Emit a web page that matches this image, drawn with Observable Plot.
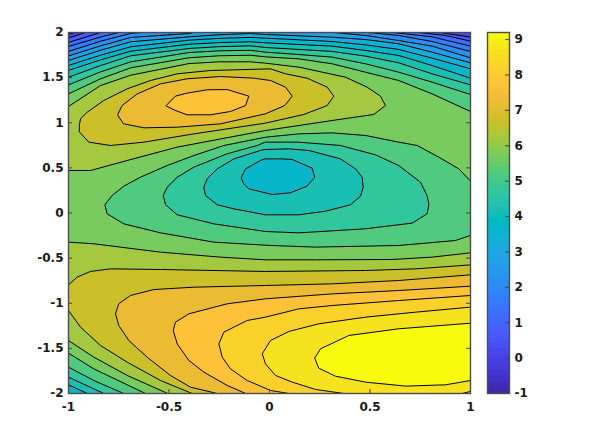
<!DOCTYPE html>
<html>
<head>
<meta charset="utf-8">
<script src="https://cdn.jsdelivr.net/npm/d3@7"></script>
<script src="https://cdn.jsdelivr.net/npm/@observablehq/plot@0.6"></script>
<style>
html,body{margin:0;padding:0;background:#fff}
#chart{position:relative;width:593px;height:443px;overflow:hidden}
#chart svg{position:absolute;left:0;top:0;background:transparent}
</style>
</head>
<body>
<div id="chart"></div>
<script>
const xTicks = [-1, -0.5, 0, 0.5, 1];
const yTicks = [-2, -1.5, -1, -0.5, 0, 0.5, 1, 1.5, 2];
const barTicks = [-1, 0, 1, 2, 3, 4, 5, 6, 7, 8, 9];
const colorDomain = [-1, 9.2];
const parula = ["rgb(62,38,168)","rgb(68,50,203)","rgb(71,65,229)","rgb(72,82,244)","rgb(69,99,253)","rgb(56,117,254)","rgb(46,135,247)","rgb(39,150,235)","rgb(32,165,227)","rgb(18,177,214)","rgb(2,186,195)","rgb(36,193,174)","rgb(55,200,151)","rgb(87,203,120)","rgb(129,204,89)","rgb(172,199,57)","rgb(209,191,39)","rgb(240,186,54)","rgb(254,195,56)","rgb(250,210,42)","rgb(245,228,31)","rgb(249,251,14)"];

// Contours: [x, y] vertices, each closed into a filled region.
const background = [[-1,2],[1,2],[1,-2],[-1,-2]];
const top52 = [[-1,2],[-1,1.32],[-.84,1.487],[-.69,1.609],[-.4,1.72],[-.25,1.742],[-.095,1.748],[-.02,1.73],[.146,1.708],[.312,1.653],[.478,1.56],[.643,1.468],[.809,1.32],[1,1.125],[1,2]];
const top47 = [[-1,2],[-1,1.42],[-.84,1.564],[-.69,1.675],[-.4,1.778],[-.25,1.797],[-.095,1.803],[-.02,1.782],[.146,1.756],[.312,1.727],[.478,1.653],[.643,1.56],[.809,1.45],[1,1.313],[1,2]];
const top42 = [[-1,2],[-1,1.505],[-.84,1.634],[-.69,1.742],[-.4,1.823],[-.25,1.843],[-.095,1.852],[-.02,1.834],[.146,1.812],[.312,1.79],[.478,1.738],[.643,1.664],[.809,1.542],[1,1.42],[1,2]];
const top37 = [[-1,2],[-1,1.58],[-.84,1.697],[-.69,1.793],[-.4,1.87],[-.25,1.888],[-.095,1.897],[-.02,1.886],[.146,1.867],[.312,1.849],[.478,1.801],[.643,1.745],[.809,1.634],[1,1.494],[1,2]];
const top32 = [[-1,2],[-1,1.635],[-.84,1.749],[-.69,1.842],[-.4,1.915],[-.25,1.935],[-.095,1.945],[-.02,1.937],[.146,1.919],[.312,1.9],[.478,1.863],[.643,1.812],[.809,1.716],[1,1.598],[1,2]];
const top27 = [[-1,2],[-1,1.69],[-.84,1.804],[-.69,1.897],[-.4,1.952],[-.25,1.975],[-.095,1.989],[-.02,1.978],[.146,1.963],[.312,1.948],[.478,1.922],[.643,1.875],[.809,1.782],[1,1.664],[1,2]];
const top22 = [[-1,2],[-1,1.74],[-.84,1.852],[-.69,1.945],[-.4,1.989],[-.38,2],[.32,2],[.478,1.967],[.643,1.911],[.809,1.849],[1,1.719],[1,2]];
const top17 = [[-1,2],[-1,1.79],[-.84,1.904],[-.69,1.99],[-.64,2],[.493,2],[.643,1.967],[.809,1.9],[1,1.79],[1,2]];
const top12 = [[-1,2],[-1,1.845],[-.84,1.95],[-.75,2],[.617,2],[.809,1.952],[1,1.849],[1,2]];
const top07 = [[-1,2],[-1,1.89],[-.84,2],[.741,2],[.876,1.967],[1,1.904],[1,2]];
const top02 = [[-1,2],[-1,1.94],[-.915,2],[.85,2],[1,1.948],[1,2]];
const topM03 = [[-1,2],[-1,1.98],[-.965,2]];

const lobe62 = [[-1,1.18],[-.84,1.413],[-.69,1.527],[-.4,1.656],[-.25,1.675],[-.095,1.675],[-.02,1.66],[.146,1.616],[.378,1.505],[.486,1.394],[.552,1.295],[.577,1.191],[.519,1.092],[.312,1.025],[-.02,.914],[-.25,.818],[-.459,.73],[-.708,.582],[-.89,.471],[-1,.471]];
const lobe67 = [[-.945,.988],[-.94,1.044],[-.907,1.117],[-.824,1.247],[-.708,1.376],[-.592,1.468],[-.459,1.542],[-.294,1.579],[.005,1.597],[.08,1.542],[.187,1.494],[.287,1.394],[.32,1.295],[.287,1.191],[.171,1.092],[-.02,.996],[-.376,.877],[-.625,.785],[-.791,.748],[-.899,.785],[-.945,.896]];
const lobe72 = [[-.755,1.091],[-.733,1.191],[-.658,1.32],[-.542,1.431],[-.41,1.487],[-.244,1.512],[-.078,1.494],[.005,1.468],[.08,1.394],[.113,1.295],[.076,1.191],[-.02,1.099],[-.244,.988],[-.459,.951],[-.625,.944],[-.725,.988]];
const lobe77 = [[-.514,1.191],[-.468,1.295],[-.41,1.328],[-.31,1.365],[-.211,1.368],[-.103,1.295],[-.119,1.191],[-.194,1.125],[-.294,1.088],[-.41,1.088],[-.468,1.136]];

const ring52 = [[1,.353],[.942,.49],[.842,.619],[.735,.748],[.643,.785],[.478,.859],[.312,.888],[.146,.877],[-.02,.84],[-.227,.748],[-.376,.637],[-.509,.526],[-.642,.397],[-.725,.297],[-.783,.194],[-.819,.091],[-.808,-.009],[-.725,-.12],[-.542,-.22],[-.277,-.323],[.005,-.36],[.229,-.378],[.643,-.36],[.925,-.305],[1,-.249]];
const ring47 = [[-.02,.785],[.146,.785],[.353,.748],[.527,.645],[.643,.526],[.751,.342],[.784,.194],[.793,.091],[.784,-.009],[.71,-.112],[.478,-.175],[.146,-.22],[-.02,-.205],[-.277,-.12],[-.459,-.02],[-.517,.091],[-.529,.194],[-.509,.286],[-.459,.397],[-.376,.508],[-.211,.656],[-.061,.748]];
const ring42 = [[-.02,.704],[.096,.711],[.196,.693],[.353,.6],[.428,.489],[.461,.397],[.466,.286],[.453,.187],[.403,.091],[.279,.02],[.146,-.02],[-.02,-.02],[-.177,.046],[-.26,.091],[-.318,.194],[-.327,.286],[-.31,.379],[-.26,.489],[-.177,.6],[-.045,.693]];
const ring37 = [[-.02,.6],[.063,.6],[.113,.593],[.212,.497],[.225,.397],[.187,.297],[.104,.224],[.013,.205],[-.103,.268],[-.128,.323],[-.141,.39],[-.119,.489],[-.045,.582]];

const low62 = [[-1,-.323],[-.874,-.341],[-.542,-.434],[-.244,-.489],[-.02,-.519],[.229,-.519],[.61,-.515],[.809,-.489],[1,-.441],[1,-2],[-1,-2]];
const corner57 = [[-1,-1.413],[-.874,-1.597],[-.708,-1.8],[-.506,-2],[-1,-2]];
const corner52 = [[-1,-1.553],[-.874,-1.727],[-.617,-2],[-1,-2]];
const corner47 = [[-1,-1.708],[-.874,-1.856],[-.725,-2],[-1,-2]];
const corner42 = [[-1,-1.819],[-.824,-2],[-1,-2]];
const corner37 = [[-1,-1.904],[-.907,-2],[-1,-2]];
const low67 = [[-1,-.796],[-.957,-.711],[-.891,-.648],[-.791,-.619],[-.542,-.626],[-.02,-.648],[.478,-.637],[.726,-.619],[1,-.575],[1,-2],[-.385,-2],[-.542,-1.856],[-.708,-1.653],[-.841,-1.468],[-.94,-1.265],[-1,-1.08]];
const low72 = [[1,-.685],[.643,-.748],[.312,-.785],[-.02,-.803],[-.376,-.822],[-.575,-.848],[-.692,-.914],[-.75,-1.006],[-.766,-1.117],[-.75,-1.246],[-.7,-1.413],[-.609,-1.597],[-.493,-1.8],[-.393,-1.93],[-.26,-2],[1,-2]];
const low77 = [[1,-.811],[.643,-.859],[.312,-.896],[-.02,-.951],[-.21,-1.006],[-.401,-1.117],[-.468,-1.21],[-.479,-1.302],[-.459,-1.45],[-.401,-1.634],[-.327,-1.763],[-.21,-1.911],[-.119,-2],[1,-2]];
const low82 = [[1,-.914],[.643,-.97],[.312,-1.025],[.146,-1.062],[-.02,-1.154],[-.111,-1.191],[-.227,-1.32],[-.252,-1.45],[-.235,-1.597],[-.194,-1.727],[-.111,-1.856],[.005,-1.966],[.096,-2],[1,-2]];
const low87 = [[1,-1.043],[.726,-1.099],[.478,-1.154],[.245,-1.228],[.096,-1.313],[.005,-1.413],[-.036,-1.56],[-.02,-1.671],[.03,-1.8],[.113,-1.874],[.229,-1.955],[.37,-2],[.958,-2],[1,-1.977]];
const low92 = [[1,-1.221],[.643,-1.283],[.395,-1.357],[.254,-1.505],[.225,-1.608],[.245,-1.719],[.328,-1.808],[.478,-1.874],[.677,-1.918],[.876,-1.904],[1,-1.856]];

// Paint order: each region is drawn over the one that encloses it, with the band value that colours it.
const regions = [
  [5.7, background],
  [5.2, top52],[4.7, top47],[4.2, top42],[3.7, top37],[3.2, top32],[2.7, top27],[2.2, top22],[1.7, top17],[1.2, top12],[0.7, top07],[0.2, top02],[-0.3, topM03],
  [6.2, lobe62],[6.7, lobe67],[7.2, lobe72],[7.7, lobe77],
  [5.2, ring52],[4.7, ring47],[4.2, ring42],[3.7, ring37],
  [6.2, low62],[5.7, corner57],[5.2, corner52],[4.7, corner47],[4.2, corner42],[3.7, corner37],
  [6.7, low67],[7.2, low72],[7.7, low77],[8.2, low82],[8.7, low87],[9.2, low92]
];
const rows = regions.flatMap(([value, pts], id) => pts.map(([x, y]) => ({id, value, x, y})));

const color = {type: "linear", domain: colorDomain, interpolate: d3.piecewise(d3.interpolateRgb, parula)};
const frameColor = "#4d4d4d", tickColor = "#404040";
const font = {fontFamily: "'DejaVu Sans', sans-serif", fontWeight: "bold", fontSize: 12, fill: "#1a1a1a"};
const fmt = d => String(d);

const main = Plot.plot({
  width: 593, height: 443,
  marginLeft: 68, marginRight: 123, marginTop: 32, marginBottom: 50,
  style: {background: "transparent"},
  x: {domain: [-1, 1]},
  y: {domain: [-2, 2]},
  color,
  marks: [
    Plot.line(rows, {x: "x", y: "y", z: "id", fill: "value", stroke: "#000", strokeWidth: 1, curve: "linear-closed", clip: true, strokeLinejoin: "round"}),
    Plot.tickX(xTicks, {x: d => d, insetTop: 357, stroke: tickColor}),
    Plot.tickX(xTicks, {x: d => d, insetBottom: 357, stroke: tickColor}),
    Plot.tickY(yTicks, {y: d => d, insetRight: 398, stroke: tickColor}),
    Plot.tickY(yTicks, {y: d => d, insetLeft: 398, stroke: tickColor}),
    Plot.frame({stroke: frameColor, strokeWidth: 1.4}),
    Plot.axisX(xTicks, {anchor: "bottom", tickSize: 0, tickPadding: 9, tickFormat: fmt, label: null, ...font}),
    Plot.axisY(yTicks, {anchor: "left", tickSize: 0, tickPadding: 5, tickFormat: fmt, label: null, ...font})
  ]
});

const nSteps = 64;
const [lo, hi] = colorDomain;
const steps = d3.range(nSteps).map(i => ({y1: lo + (hi - lo) * i / nSteps, y2: lo + (hi - lo) * (i + 1) / nSteps, v: lo + (hi - lo) * (i + 0.5) / nSteps}));

const bar = Plot.plot({
  width: 593, height: 443,
  marginLeft: 487, marginRight: 84, marginTop: 32, marginBottom: 50,
  style: {background: "transparent"},
  x: {domain: [0, 1], axis: null},
  y: {domain: colorDomain},
  color,
  marks: [
    Plot.rectY(steps, {x1: 0, x2: 1, y1: "y1", y2: "y2", fill: "v", shapeRendering: "crispEdges"}),
    Plot.tickY(barTicks, {y: d => d, insetLeft: 18, stroke: tickColor}),
    Plot.frame({stroke: frameColor, strokeWidth: 1.4}),
    Plot.axisY(barTicks, {anchor: "right", tickSize: 0, tickPadding: 5, tickFormat: fmt, label: null, ...font})
  ]
});

const host = document.getElementById("chart");
host.append(main, bar);
</script>
</body>
</html>
